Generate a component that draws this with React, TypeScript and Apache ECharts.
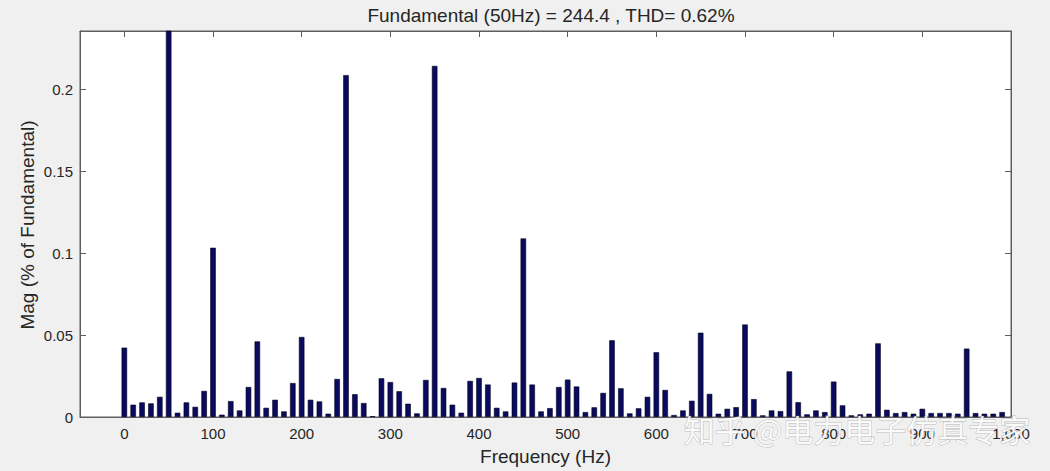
import React, { useEffect, useRef } from "react";
import * as echarts from "echarts";

const titleText = "Fundamental (50Hz) = 244.4 , THD= 0.62%";
const xAxisName = "Frequency (Hz)";
const yAxisName = "Mag (% of Fundamental)";
const watermark = "知乎 @电力电子仿真专家";

const xTicks = [0, 100, 200, 300, 400, 500, 600, 700, 800, 900, 1000];
const yTicks = [0, 0.05, 0.1, 0.15, 0.2];

const freqs = [
  0, 10, 20, 30, 40, 50, 60, 70, 80, 90,
  100, 110, 120, 130, 140, 150, 160, 170, 180, 190,
  200, 210, 220, 230, 240, 250, 260, 270, 280, 290,
  300, 310, 320, 330, 340, 350, 360, 370, 380, 390,
  400, 410, 420, 430, 440, 450, 460, 470, 480, 490,
  500, 510, 520, 530, 540, 550, 560, 570, 580, 590,
  600, 610, 620, 630, 640, 650, 660, 670, 680, 690,
  700, 710, 720, 730, 740, 750, 760, 770, 780, 790,
  800, 810, 820, 830, 840, 850, 860, 870, 880, 890,
  900, 910, 920, 930, 940, 950, 960, 970, 980, 990,
];

const mags = [
  0.0423, 0.0075, 0.0089, 0.0083, 0.0123, 100, 0.0026, 0.0089, 0.0062, 0.0159,
  0.1032, 0.0014, 0.0097, 0.004, 0.0183, 0.0461, 0.0056, 0.0105, 0.0034, 0.0207,
  0.0488, 0.0105, 0.0095, 0.002, 0.0232, 0.2085, 0.0139, 0.0085, 0.0005, 0.0236,
  0.0213, 0.0157, 0.0081, 0.0022, 0.0226, 0.2141, 0.0177, 0.0075, 0.0026, 0.022,
  0.0238, 0.0198, 0.0056, 0.0034, 0.021, 0.1089, 0.0198, 0.0034, 0.0054, 0.0183,
  0.0228, 0.0186, 0.003, 0.0059, 0.0147, 0.0468, 0.0175, 0.0022, 0.0053, 0.0123,
  0.0395, 0.0165, 0.0012, 0.004, 0.0099, 0.0514, 0.0141, 0.002, 0.005, 0.006,
  0.0564, 0.0109, 0.001, 0.004, 0.0036, 0.0278, 0.009, 0.0016, 0.004, 0.003,
  0.0216, 0.0071, 0.001, 0.0016, 0.002, 0.0449, 0.0044, 0.0024, 0.003, 0.002,
  0.005, 0.0024, 0.0024, 0.0024, 0.002, 0.0417, 0.0024, 0.002, 0.002, 0.003,
];

const X_MIN = -50;
const X_MAX = 1000;
const Y_MIN = 0;
const Y_MAX = 0.2354;

export default function App() {
  const ref = useRef<HTMLDivElement>(null);

  useEffect(() => {
    if (!ref.current) return;
    const chart = echarts.init(ref.current, null, { renderer: "svg" });
    const font = "'Liberation Sans', Arial, Helvetica, sans-serif";
    const axisColor = "#5f5f5f";
    const labelColor = "#262626";
    const grid = { left: 80, right: 39, top: 31, bottom: 50 };

    const option: any = {
      animation: false,
      backgroundColor: "#f0f0f0",
      title: {
        text: titleText,
        left: 546,
        top: 1,
        textAlign: "center",
        textStyle: { fontFamily: font, fontSize: 19, fontWeight: "normal", color: labelColor },
      },
      grid: {
        ...grid,
        show: true,
        backgroundColor: "#ffffff",
        borderColor: axisColor,
        borderWidth: 1,
      },
      xAxis: [
        {
          type: "value",
          min: X_MIN,
          max: X_MAX,
          position: "bottom",
          name: xAxisName,
          nameLocation: "middle",
          nameGap: 30,
          nameTextStyle: { fontFamily: font, fontSize: 19, color: labelColor },
          axisLine: { show: true, onZero: false, lineStyle: { color: axisColor } },
          axisTick: { show: true, inside: true, length: 6, customValues: xTicks, lineStyle: { color: axisColor } },
          axisLabel: { customValues: xTicks, fontFamily: font, fontSize: 15, color: labelColor, margin: 9 },
          splitLine: { show: false },
        },
        {
          type: "value",
          min: X_MIN,
          max: X_MAX,
          position: "top",
          axisLine: { show: true, onZero: false, lineStyle: { color: axisColor } },
          axisTick: { show: true, inside: true, length: 6, customValues: xTicks, lineStyle: { color: axisColor } },
          axisLabel: { show: false },
          splitLine: { show: false },
        },
      ],
      yAxis: [
        {
          type: "value",
          min: Y_MIN,
          max: Y_MAX,
          position: "left",
          axisLine: { show: true, onZero: false, lineStyle: { color: axisColor } },
          axisTick: { show: true, inside: true, length: 6, customValues: yTicks, lineStyle: { color: axisColor } },
          axisLabel: { customValues: yTicks, fontFamily: font, fontSize: 15, color: labelColor, margin: 7 },
          splitLine: { show: false },
        },
        {
          type: "value",
          min: Y_MIN,
          max: Y_MAX,
          position: "right",
          axisLine: { show: true, onZero: false, lineStyle: { color: axisColor } },
          axisTick: { show: true, inside: true, length: 6, customValues: yTicks, lineStyle: { color: axisColor } },
          axisLabel: { show: false },
          splitLine: { show: false },
        },
      ],
      series: [
        {
          type: "bar",
          xAxisIndex: 0,
          yAxisIndex: 0,
          barWidth: 5.5,
          clip: true,
          data: freqs.map((f, i) => [f, mags[i]]),
          itemStyle: { color: "#0a0a5e", borderColor: "#000020", borderWidth: 0.6 },
        },
      ],
      graphic: [
        {
          type: "text",
          x: 27,
          y: 225,
          rotation: Math.PI / 2,
          style: {
            text: yAxisName,
            fontFamily: font,
            fontSize: 19,
            fill: labelColor,
            align: "center",
            verticalAlign: "middle",
          },
        },
        {
          type: "text",
          x: 857,
          y: 428,
          z: 100,
          style: {
            text: watermark,
            fontFamily: "'Noto Sans CJK SC', sans-serif",
            fontSize: 31,
            fill: "rgba(255,255,255,0.88)",
            stroke: "rgba(120,120,120,0.45)",
            lineWidth: 1,
            align: "center",
            verticalAlign: "middle",
          },
        },
      ],
    };

    chart.setOption(option);
    return () => chart.dispose();
  }, []);

  return (
    <div
      ref={ref}
      style={{ position: "fixed", left: 0, top: 0, width: 1050, height: 471 }}
    />
  );
}
